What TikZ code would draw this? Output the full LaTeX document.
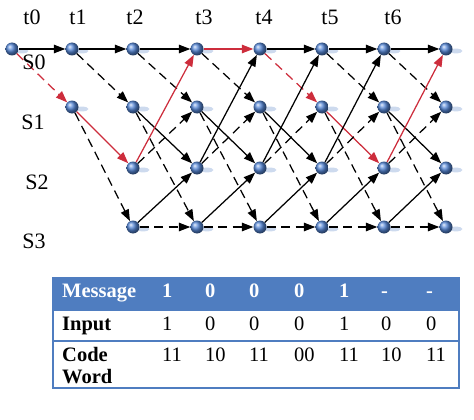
\documentclass[tikz,border=0pt]{standalone}
\usepackage{fontspec}
\setmainfont{Liberation Serif}
\usetikzlibrary{arrows.meta}
\definecolor{nodeblue}{RGB}{85,135,215}
\definecolor{shadowblue}{RGB}{205,218,238}
\definecolor{pathred}{RGB}{205,45,60}
\definecolor{tabblue}{RGB}{79,125,192}
\begin{document}
\begin{tikzpicture}[x=1pt,y=-1pt,
  st/.style={circle,minimum size=13pt,inner sep=0pt,shading=ball,ball color=nodeblue},
  tr/.style={line width=1.25pt,-{Triangle[length=11.5pt,width=8.5pt]}},
  es/.style={},
  ed/.style={dash pattern=on 9pt off 5.5pt},
  lab/.style={font=\fontsize{22}{22}\selectfont,inner sep=0pt},
  tt/.style={font=\fontsize{20.5}{20.5}\selectfont,inner sep=0pt,anchor=base west},
  tb/.style={tt,font=\fontsize{20.5}{20.5}\selectfont\bfseries},
  th/.style={tb,text=white}]
\useasboundingbox (0,0) rectangle (474,420);

% states
\foreach \i/\x in {0/12,1/72,2/133,3/197,4/260,5/322,6/384,7/446}{
  \foreach \j/\y in {0/49,1/107,2/168,3/227}{
    \pgfmathtruncatemacro\ok{((\i>=2) || (\j==0) || ((\i==1) && (\j==1))) ? 1 : 0}
    \ifnum\ok=1
      \fill[shadowblue] (\x+10,\y+2) ellipse (6.5 and 2.4);
      \node[st] (n\i\j) at (\x,\y) {};
    \fi
  }
}

% transitions
\foreach \i in {0,...,6}{
  \pgfmathtruncatemacro\k{\i+1}
  \foreach \a/\b/\kind/\mins in {0/0/s/0,0/1/d/0,1/2/s/1,1/3/d/1,2/0/s/2,2/1/d/2,3/2/s/2,3/3/d/2}{
    \pgfmathtruncatemacro\go{(\i>=\mins) ? 1 : 0}
    \pgfmathtruncatemacro\isred{(((\i==0)||(\i==4)) && (\a==0) && (\b==1)) || (((\i==1)||(\i==5)) && (\a==1) && (\b==2)) || (((\i==2)||(\i==6)) && (\a==2) && (\b==0)) || ((\i==3) && (\a==0) && (\b==0)) ? 1 : 0}
    \ifnum\go=1
      \ifnum\isred=1
        \draw[tr,e\kind,pathred] (n\i\a) -- (n\k\b);
      \else
        \draw[tr,e\kind,black] (n\i\a) -- (n\k\b);
      \fi
    \fi
  }
}

% time labels
\foreach \x/\t in {32/0,78/1,135/2,204/3,264/4,330/5,393/6}{
  \node[lab,anchor=base] (t\t) at (\x,25) {t\t};
}
% state labels
\node[lab] (s0) at (34,62) {S0};
\node[lab] (s1) at (33,122) {S1};
\node[lab] (s2) at (37,182) {S2};
\node[lab] (s3) at (34,241) {S3};

% table
\fill[tabblue] (53,278) rectangle (459,309);
\draw[tabblue,line width=1.6pt] (53,278) rectangle (459,388);
\draw[tabblue,line width=1.6pt] (53,310) -- (459,310);
\draw[tabblue,line width=1.6pt] (53,341) -- (459,341);

\node[th] (hm) at (62,297) {Message};
\node[tb] (hi) at (62,330) {Input};
\node[tb] (hc) at (62,361) {Code};
\node[tb] (hw) at (62,383) {Word};

\foreach \x/\m/\v/\c [count=\n] in {162/1/1/11,205/0/0/10,249/0/0/11,294/0/0/00,339/1/1/11,381/-/0/10,426/-/0/11}{
  \node[th] (m\n) at (\x,297) {\m};
  \node[tt] (v\n) at (\x,330) {\v};
  \node[tt] (c\n) at (\x,361) {\c};
}
\end{tikzpicture}
\end{document}
